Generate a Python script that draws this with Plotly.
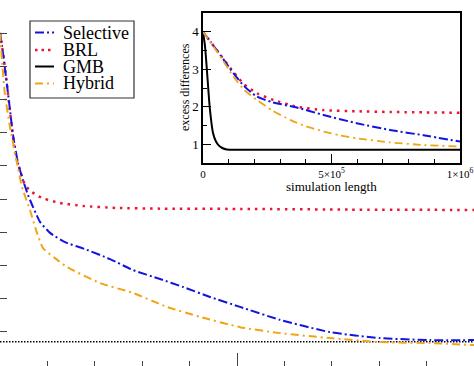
import plotly.graph_objects as go

W, H = 474, 366

# ---------------- main panel (x in units of 1e5 simulation steps) ----------------
sel_x = [0, 0.063, 0.148, 0.211, 0.274, 0.38, 0.485, 0.591, 0.696, 0.844, 1.055, 1.371, 1.793,
         2.321, 2.806, 3.376, 3.861, 4.43, 5.063, 5.907, 6.962, 8.017, 9.072, 10]
sel_y = [1.0, 0.94, 0.843, 0.768, 0.693, 0.608, 0.557, 0.512, 0.476, 0.431, 0.398, 0.37, 0.349,
         0.319, 0.286, 0.259, 0.235, 0.205, 0.175, 0.136, 0.099, 0.081, 0.075, 0.075]

brl_x = [0, 0.063, 0.148, 0.232, 0.316, 0.422, 0.527, 0.675, 0.802, 0.949, 1.266, 1.751, 2.468,
         3.376, 5.274, 7.384, 10]
brl_y = [1.0, 0.94, 0.843, 0.738, 0.642, 0.587, 0.542, 0.521, 0.509, 0.5, 0.488, 0.479, 0.473,
         0.471, 0.47, 0.468, 0.467]

hyb_x = [0, 0.042, 0.105, 0.211, 0.295, 0.359, 0.464, 0.633, 0.759, 0.907, 1.16, 1.414, 2.11,
         2.806, 3.523, 4.219, 5.063, 5.907, 6.962, 8.017, 9.072, 10]
hyb_y = [1.0, 0.919, 0.813, 0.717, 0.654, 0.608, 0.536, 0.467, 0.407, 0.352, 0.322, 0.295, 0.247,
         0.217, 0.175, 0.145, 0.114, 0.096, 0.081, 0.069, 0.066, 0.06]

floor_x = [0, 10]
floor_y = [0.07, 0.07]

main_yticks = [0.1, 0.2, 0.3, 0.4, 0.5, 0.6, 0.7, 0.8, 0.9, 1.0]

# ---------------- inset panel ----------------
in_sel_x = [0, 0.6, 1.19, 1.6, 2.1, 2.7, 3.65, 4.69, 5.98, 7.28, 8.58, 10]
in_sel_y = [4.0, 3.45, 2.89, 2.55, 2.27, 2.12, 1.98, 1.78, 1.56, 1.38, 1.24, 1.07]

in_brl_x = [0, 0.6, 1.19, 1.6, 2.1, 2.75, 3.65, 4.69, 5.98, 7.28, 10]
in_brl_y = [4.0, 3.45, 2.92, 2.6, 2.36, 2.18, 2.0, 1.91, 1.88, 1.86, 1.84]

in_gmb_x = [0, 0.08, 0.15, 0.26, 0.39, 0.5, 0.61, 0.75, 0.93, 1.2, 10]
in_gmb_y = [4.0, 3.6, 3.0, 2.0, 1.3, 1.08, 0.97, 0.9, 0.86, 0.85, 0.85]

in_hyb_x = [0, 0.6, 1.19, 1.6, 2.1, 2.7, 3.39, 4.0, 4.69, 5.3, 5.98, 7.28, 8.58, 10]
in_hyb_y = [4.0, 3.42, 2.8, 2.45, 2.18, 1.9, 1.65, 1.48, 1.34, 1.24, 1.16, 1.05, 0.98, 0.94]

inset_xtickvals = [0, 5, 10]
inset_xticktext = ["0", "5×10<sup>5</sup>", "1×10<sup>6</sup>"]
inset_ytickvals = [1, 2, 3, 4]
inset_xtitle = "simulation length"
inset_ytitle = "excess differences"

series_names = ["Selective", "BRL", "GMB", "Hybrid"]

BLUE = "rgb(20,20,225)"
RED = "rgb(235,20,50)"
BLACK = "black"
ORANGE = "rgb(240,165,20)"
SERIF = "'Liberation Serif', 'Times New Roman', Times, 'DejaVu Serif', serif"

DASH_SEL = "9px,3px,2px,3px"
DASH_BRL = "2.5px,5px"
DASH_HYB = "8px,4px,2px,4px"

fig = go.Figure()

def add(x, y, color, dash, width, ax, name):
    fig.add_trace(go.Scatter(
        x=x, y=y, mode="lines", name=name, showlegend=False,
        line=dict(color=color, dash=dash, width=width, shape="spline", smoothing=0.5),
        xaxis="x" if ax == 1 else "x2", yaxis="y" if ax == 1 else "y2",
        hoverinfo="skip"))

# main
add(floor_x, floor_y, BLACK, "1.5px,1.5px", 1.5, 1, "reference")
add(brl_x, brl_y, RED, DASH_BRL, 2.5, 1, "BRL")
add(sel_x, sel_y, BLUE, DASH_SEL, 2, 1, "Selective")
add(hyb_x, hyb_y, ORANGE, DASH_HYB, 2, 1, "Hybrid")

# inset
add(in_gmb_x, in_gmb_y, BLACK, "solid", 2, 2, "GMB")
add(in_brl_x, in_brl_y, RED, "2.5px,5px", 2.5, 2, "BRL")
add(in_sel_x, in_sel_y, BLUE, DASH_SEL, 2, 2, "Selective")
add(in_hyb_x, in_hyb_y, ORANGE, DASH_HYB, 1.8, 2, "Hybrid")

def px(x):
    return x / W
def py(y):
    return 1 - y / H

# ---------- custom legend ----------
lx0, ly0, lx1, ly1 = 30, 21, 134, 98
shapes = [dict(type="rect", xref="paper", yref="paper", x0=px(lx0), x1=px(lx1),
               y0=py(ly1), y1=py(ly0), line=dict(color="#333", width=1.2), fillcolor="white")]
leg_styles = [(BLUE, DASH_SEL, 2), (RED, "2.5px,4px", 2.5), (BLACK, "solid", 2), (ORANGE, DASH_HYB, 2)]
leg_y = [32.5, 50, 66.5, 83.5]
annotations = []
for name, (c, d, w), yy in zip(series_names, leg_styles, leg_y):
    shapes.append(dict(type="line", xref="paper", yref="paper", x0=px(35), x1=px(54),
                       y0=py(yy), y1=py(yy), line=dict(color=c, dash=d, width=w)))
    annotations.append(dict(text=name, xref="paper", yref="paper", x=px(61), y=py(yy),
                            xanchor="left", yanchor="middle", showarrow=False,
                            font=dict(family=SERIF, size=18, color="black")))

# inset axis titles
annotations.append(dict(text=inset_xtitle, xref="paper", yref="paper", x=px(331.5), y=py(186),
                        xanchor="center", yanchor="middle", showarrow=False,
                        font=dict(family=SERIF, size=13, color="black")))
annotations.append(dict(text=inset_ytitle, xref="paper", yref="paper", x=px(185), y=py(87),
                        xanchor="center", yanchor="middle", showarrow=False, textangle=-90,
                        font=dict(family=SERIF, size=12, color="black")))

ix0, ix1, iy0, iy1 = 203, 460, 13, 163

fig.update_layout(
    width=W, height=H, autosize=False,
    margin=dict(l=0, r=0, t=0, b=0, pad=0),
    paper_bgcolor="white", plot_bgcolor="white",
    font=dict(family=SERIF, color="black"),
    showlegend=False,
    shapes=shapes, annotations=annotations,
    xaxis=dict(domain=[0, 1], range=[0, 10], showgrid=False, zeroline=False, showline=False,
               automargin=False,
               ticks="inside", tickmode="array", tickvals=[0, 5, 10], ticklen=13, tickwidth=1,
               tickcolor="#444", showticklabels=False,
               minor=dict(ticks="inside", tickmode="array", tickvals=[1, 2, 3, 4, 6, 7, 8, 9],
                          ticklen=5, tickwidth=1, tickcolor="#444", showgrid=False)),
    yaxis=dict(domain=[0, 1], range=[1 - 333 / 332, 1 + 33 / 332], showgrid=False, zeroline=False,
               showline=False, automargin=False,
               ticks="inside", tickmode="array", tickvals=main_yticks,
               ticklen=7, tickwidth=1, tickcolor="#444", showticklabels=False),
    xaxis2=dict(domain=[px(ix0), px(ix1)], anchor="y2", range=[0, 10], showgrid=False,
                zeroline=False, showline=True, linecolor="black", linewidth=1.5, mirror=True,
                automargin=False,
                ticks="inside", tickmode="array", tickvals=inset_xtickvals,
                ticktext=inset_xticktext, ticklen=9, tickwidth=1, tickcolor="black",
                tickfont=dict(family=SERIF, size=11, color="black"),
                minor=dict(ticks="inside", tickmode="array", tickvals=[1, 2, 3, 4, 6, 7, 8, 9],
                           ticklen=4, tickwidth=1, tickcolor="black", showgrid=False)),
    yaxis2=dict(domain=[py(iy1), py(iy0)], anchor="x2", range=[0.5, 4.5], showgrid=False,
                zeroline=False, showline=True, linecolor="black", linewidth=1.5, mirror=True,
                automargin=False,
                ticks="inside", tickmode="array", tickvals=inset_ytickvals, ticklen=8,
                tickwidth=1, tickcolor="black",
                tickfont=dict(family=SERIF, size=13, color="black"),
                minor=dict(ticks="inside", tickmode="array", tickvals=[1.5, 2.5, 3.5],
                           ticklen=4, tickwidth=1, tickcolor="black", showgrid=False)),
)

fig.write_html(
    "out.html",
    config={"displayModeBar": False},
    post_script="document.body.style.margin='0';",
)
